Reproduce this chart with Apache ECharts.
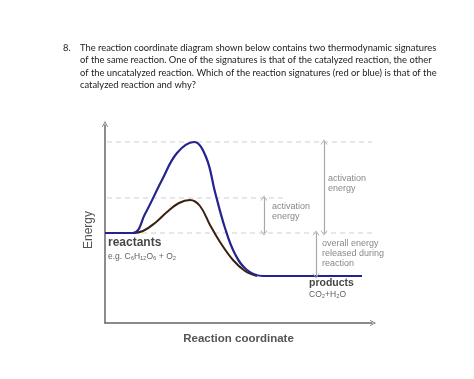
<!DOCTYPE html>
<html>
<head>
<meta charset="utf-8">
<script src="https://cdn.jsdelivr.net/npm/echarts@6/dist/echarts.min.js"></script>
<style>
html,body{margin:0;padding:0;background:#fff;}
#chart{width:474px;height:379px;}
</style>
</head>
<body>
<div id="chart"></div>
<script>
// ---- data (x: reaction coordinate, y: energy; arbitrary units) ----
const questionNumber = '8.';
const questionLines = [
  'The reaction coordinate diagram shown below contains two thermodynamic signatures',
  'of the same reaction. One of the signatures is that of the catalyzed reaction, the other',
  'of the uncatalyzed reaction. Which of the reaction signatures (red or blue) is that of the',
  'catalyzed reaction and why?'
];
const xAxisName = 'Reaction coordinate';
const yAxisName = 'Energy';

const uncatalyzedCurve = [
  [0, 90], [28, 90], [40, 109], [57, 143], [72, 170], [89, 181], [101, 166],
  [110, 131], [120, 95], [130, 69], [142, 53], [158, 47], [257, 47]
];
const catalyzedCurve = [
  [28, 90], [38, 92], [50, 100], [62, 111], [74, 120], [85, 123], [95, 117],
  [105, 98], [115, 81], [128, 63], [140, 52], [152, 47]
];

const levelUncatalyzedPeak = [[2, 181], [267, 181]];
const levelCatalyzedPeak = [[2, 125], [178, 125]];
const levelReactants = [[28, 90], [267, 90]];

const arrowCatalyzedEa = [[159, 125], [159, 90]];
const arrowUncatalyzedEa = [[219, 181], [219, 90]];
const arrowOverall = [[211, 90], [211, 47]];

const labels = [
  { name: 'activation\nenergy', value: [167, 111.5], kind: 'note' },
  { name: 'activation\nenergy', value: [223, 139.5], kind: 'note' },
  { name: 'overall energy\nreleased during\nreaction', value: [217, 69], kind: 'note' },
  { name: 'reactants', value: [3, 80], kind: 'head' },
  { name: 'e.g. C₆H₁₂O₆ + O₂', value: [3, 66], kind: 'sub' },
  { name: 'products', value: [204, 40], kind: 'head2' },
  { name: 'CO₂+H₂O', value: [204, 28], kind: 'sub' }
];

// ---- chart ----
const chevron = 'path://M0,10 L5,0 L10,10 L8.8,10 L5,2.6 L1.2,10 Z';
const font = '"Liberation Sans", Arial, sans-serif';
const qStyle = { fontFamily: 'Lato, sans-serif', fontSize: 9.4, fontWeight: 'normal', color: '#1c1c1c', lineHeight: 12.3 };

const labelStyles = {
  note: { fontSize: 9, color: '#6a6a6a', lineHeight: 10 },
  head: { fontSize: 12, fontWeight: 'bold', color: '#151515' },
  head2: { fontSize: 10.5, fontWeight: 'bold', color: '#151515' },
  sub: { fontSize: 8.5, color: '#333' }
};

function dashSeries(data) {
  return {
    type: 'line', data: data, symbol: 'none', silent: true, z: 1,
    lineStyle: { color: '#cfcfcf', width: 1, type: [5, 4] }
  };
}
function arrowLine(data) {
  return [{ coord: data[0] }, { coord: data[1] }];
}

const chart = echarts.init(document.getElementById('chart'), null, { renderer: 'canvas' });
chart.setOption({
  animation: false,
  backgroundColor: '#fff',
  title: [
    { text: questionNumber, left: 63, top: 42, padding: 0, textStyle: qStyle },
    { text: questionLines.join('\n'), left: 80, top: 42, padding: 0, textStyle: qStyle }
  ],
  grid: { left: 105, right: 102, top: 125, bottom: 56 },
  xAxis: {
    type: 'value', min: 0, max: 267,
    axisLine: { show: true, lineStyle: { color: '#666', width: 1.5 }, symbol: ['none', chevron], symbolSize: [11, 6], symbolOffset: [0, 1] },
    axisTick: { show: false }, axisLabel: { show: false }, splitLine: { show: false },
    name: xAxisName, nameLocation: 'middle', nameGap: 10,
    nameTextStyle: { fontFamily: font, fontSize: 11.5, fontWeight: 'bold', color: '#555' }
  },
  yAxis: {
    type: 'value', min: 0, max: 198,
    axisLine: { show: true, lineStyle: { color: '#666', width: 1.5 }, symbol: ['none', chevron], symbolSize: [11, 6], symbolOffset: [0, 1] },
    axisTick: { show: false }, axisLabel: { show: false }, splitLine: { show: false },
    name: yAxisName, nameLocation: 'middle', nameGap: 10,
    nameTextStyle: { fontFamily: font, fontSize: 12, color: '#555', padding: [0, 12, 0, 0] }
  },
  series: [
    dashSeries(levelUncatalyzedPeak),
    dashSeries(levelCatalyzedPeak),
    dashSeries(levelReactants),
    {
      type: 'line', data: [], silent: true, z: 2,
      markLine: {
        silent: true, symbol: [chevron, chevron], symbolSize: [7, 5],
        label: { show: false },
        lineStyle: { color: '#a8a8a8', width: 1.2, type: 'solid' },
        data: [arrowLine(arrowCatalyzedEa), arrowLine(arrowUncatalyzedEa), arrowLine(arrowOverall)]
      }
    },
    {
      name: 'catalyzed', type: 'line', data: catalyzedCurve, symbol: 'none', smooth: 0.4, z: 3,
      lineStyle: { color: '#3a2010', width: 2 }
    },
    {
      name: 'uncatalyzed', type: 'line', data: uncatalyzedCurve, symbol: 'none', smooth: 0.4, z: 4,
      lineStyle: { color: '#25238c', width: 2.2 }
    },
    {
      type: 'scatter', symbolSize: 0, silent: true, z: 5,
      data: labels.map(l => ({
        name: l.name, value: l.value,
        label: Object.assign({ show: true, position: 'right', distance: 0, formatter: '{b}', fontFamily: font }, labelStyles[l.kind])
      }))
    }
  ]
});
</script>
</body>
</html>
